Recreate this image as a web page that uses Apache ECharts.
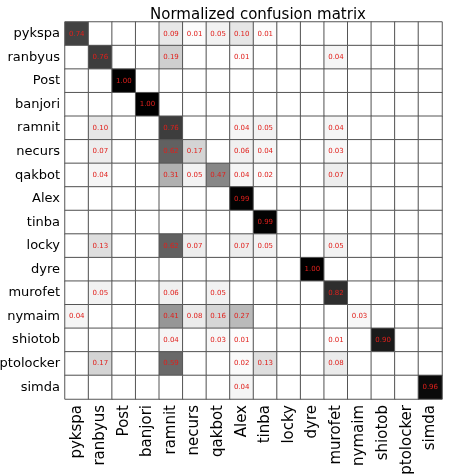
<!DOCTYPE html>
<html lang="en">
<head>
	<meta charset="UTF-8">
	<title>Normalized confusion matrix</title>
	<script src="https://cdn.jsdelivr.net/npm/echarts@6/dist/echarts.min.js"></script>
	<style type="text/css">
		html, body { margin: 0; padding: 0; background: #fff; }
		#main { width: 474px; height: 474px; }
	</style>
</head>
<body>
	<div id="main"></div>
	<script type="text/javascript">
		var families = ['pykspa', 'ranbyus', 'Post', 'banjori', 'ramnit', 'necurs', 'qakbot', 'Alex',
			'tinba', 'locky', 'dyre', 'murofet', 'nymaim', 'shiotob', 'cryptolocker', 'simda'];

		// one row per true label, one column per predicted label
		var rowPykspa       = [0.74, 0, 0, 0, 0.09, 0.01, 0.05, 0.10, 0.01, 0, 0, 0, 0, 0, 0, 0];
		var rowRanbyus      = [0, 0.76, 0, 0, 0.19, 0, 0, 0.01, 0, 0, 0, 0.04, 0, 0, 0, 0];
		var rowPost         = [0, 0, 1.00, 0, 0, 0, 0, 0, 0, 0, 0, 0, 0, 0, 0, 0];
		var rowBanjori      = [0, 0, 0, 1.00, 0, 0, 0, 0, 0, 0, 0, 0, 0, 0, 0, 0];
		var rowRamnit       = [0, 0.10, 0, 0, 0.76, 0, 0, 0.04, 0.05, 0, 0, 0.04, 0, 0, 0, 0];
		var rowNecurs       = [0, 0.07, 0, 0, 0.62, 0.17, 0, 0.06, 0.04, 0, 0, 0.03, 0, 0, 0, 0];
		var rowQakbot       = [0, 0.04, 0, 0, 0.31, 0.05, 0.47, 0.04, 0.02, 0, 0, 0.07, 0, 0, 0, 0];
		var rowAlex         = [0, 0, 0, 0, 0, 0, 0, 0.99, 0, 0, 0, 0, 0, 0, 0, 0];
		var rowTinba        = [0, 0, 0, 0, 0, 0, 0, 0, 0.99, 0, 0, 0, 0, 0, 0, 0];
		var rowLocky        = [0, 0.13, 0, 0, 0.62, 0.07, 0, 0.07, 0.05, 0, 0, 0.05, 0, 0, 0, 0];
		var rowDyre         = [0, 0, 0, 0, 0, 0, 0, 0, 0, 0, 1.00, 0, 0, 0, 0, 0];
		var rowMurofet      = [0, 0.05, 0, 0, 0.06, 0, 0.05, 0, 0, 0, 0, 0.82, 0, 0, 0, 0];
		var rowNymaim       = [0.04, 0, 0, 0, 0.41, 0.08, 0.16, 0.27, 0, 0, 0, 0, 0.03, 0, 0, 0];
		var rowShiotob      = [0, 0, 0, 0, 0.04, 0, 0.03, 0.01, 0, 0, 0, 0.01, 0, 0.90, 0, 0];
		var rowCryptolocker = [0, 0.17, 0, 0, 0.59, 0, 0, 0.02, 0.13, 0, 0, 0.08, 0, 0, 0, 0];
		var rowSimda        = [0, 0, 0, 0, 0, 0, 0, 0.04, 0, 0, 0, 0, 0, 0, 0, 0.96];

		var rows = [rowPykspa, rowRanbyus, rowPost, rowBanjori, rowRamnit, rowNecurs, rowQakbot, rowAlex,
			rowTinba, rowLocky, rowDyre, rowMurofet, rowNymaim, rowShiotob, rowCryptolocker, rowSimda];

		var cells = [];
		for (var r = 0; r < rows.length; r++) {
			for (var c = 0; c < rows[r].length; c++) {
				cells.push([c, r, rows[r][c]]);
			}
		}

		var chart = echarts.init(document.getElementById('main'));
		var font = 'DejaVu Sans';

		chart.setOption({
			animation: false,
			title: {
				text: 'Normalized confusion matrix',
				left: 253,
				textAlign: 'center',
				top: 3,
				textStyle: { fontFamily: font, fontSize: 15, fontWeight: 'normal', color: '#000' }
			},
			grid: { left: 65, top: 22, width: 377, height: 377, outerBoundsMode: 'none', containLabel: false },
			xAxis: {
				type: 'category',
				data: families,
				axisLine: { show: false },
				axisTick: { show: false },
				splitLine: { show: false },
				axisLabel: { rotate: 90, margin: 6, fontFamily: font, fontSize: 15, color: '#000', interval: 0 }
			},
			yAxis: {
				type: 'category',
				data: families,
				inverse: true,
				axisLine: { show: false },
				axisTick: { show: false },
				splitLine: { show: false },
				axisLabel: { margin: 5, fontFamily: font, fontSize: 13, color: '#000', interval: 0 }
			},
			visualMap: {
				show: false,
				min: 0,
				max: 1,
				dimension: 2,
				inRange: { color: ['#ffffff', '#000000'] }
			},
			series: [{
				type: 'heatmap',
				data: cells,
				itemStyle: { borderColor: '#555', borderWidth: 1 },
				label: {
					show: true,
					fontFamily: font,
					fontSize: 7,
					color: '#e0201c',
					formatter: function (p) {
						return p.value[2] > 0 ? p.value[2].toFixed(2) : '';
					}
				}
			}]
		});
	</script>
</body>
</html>
